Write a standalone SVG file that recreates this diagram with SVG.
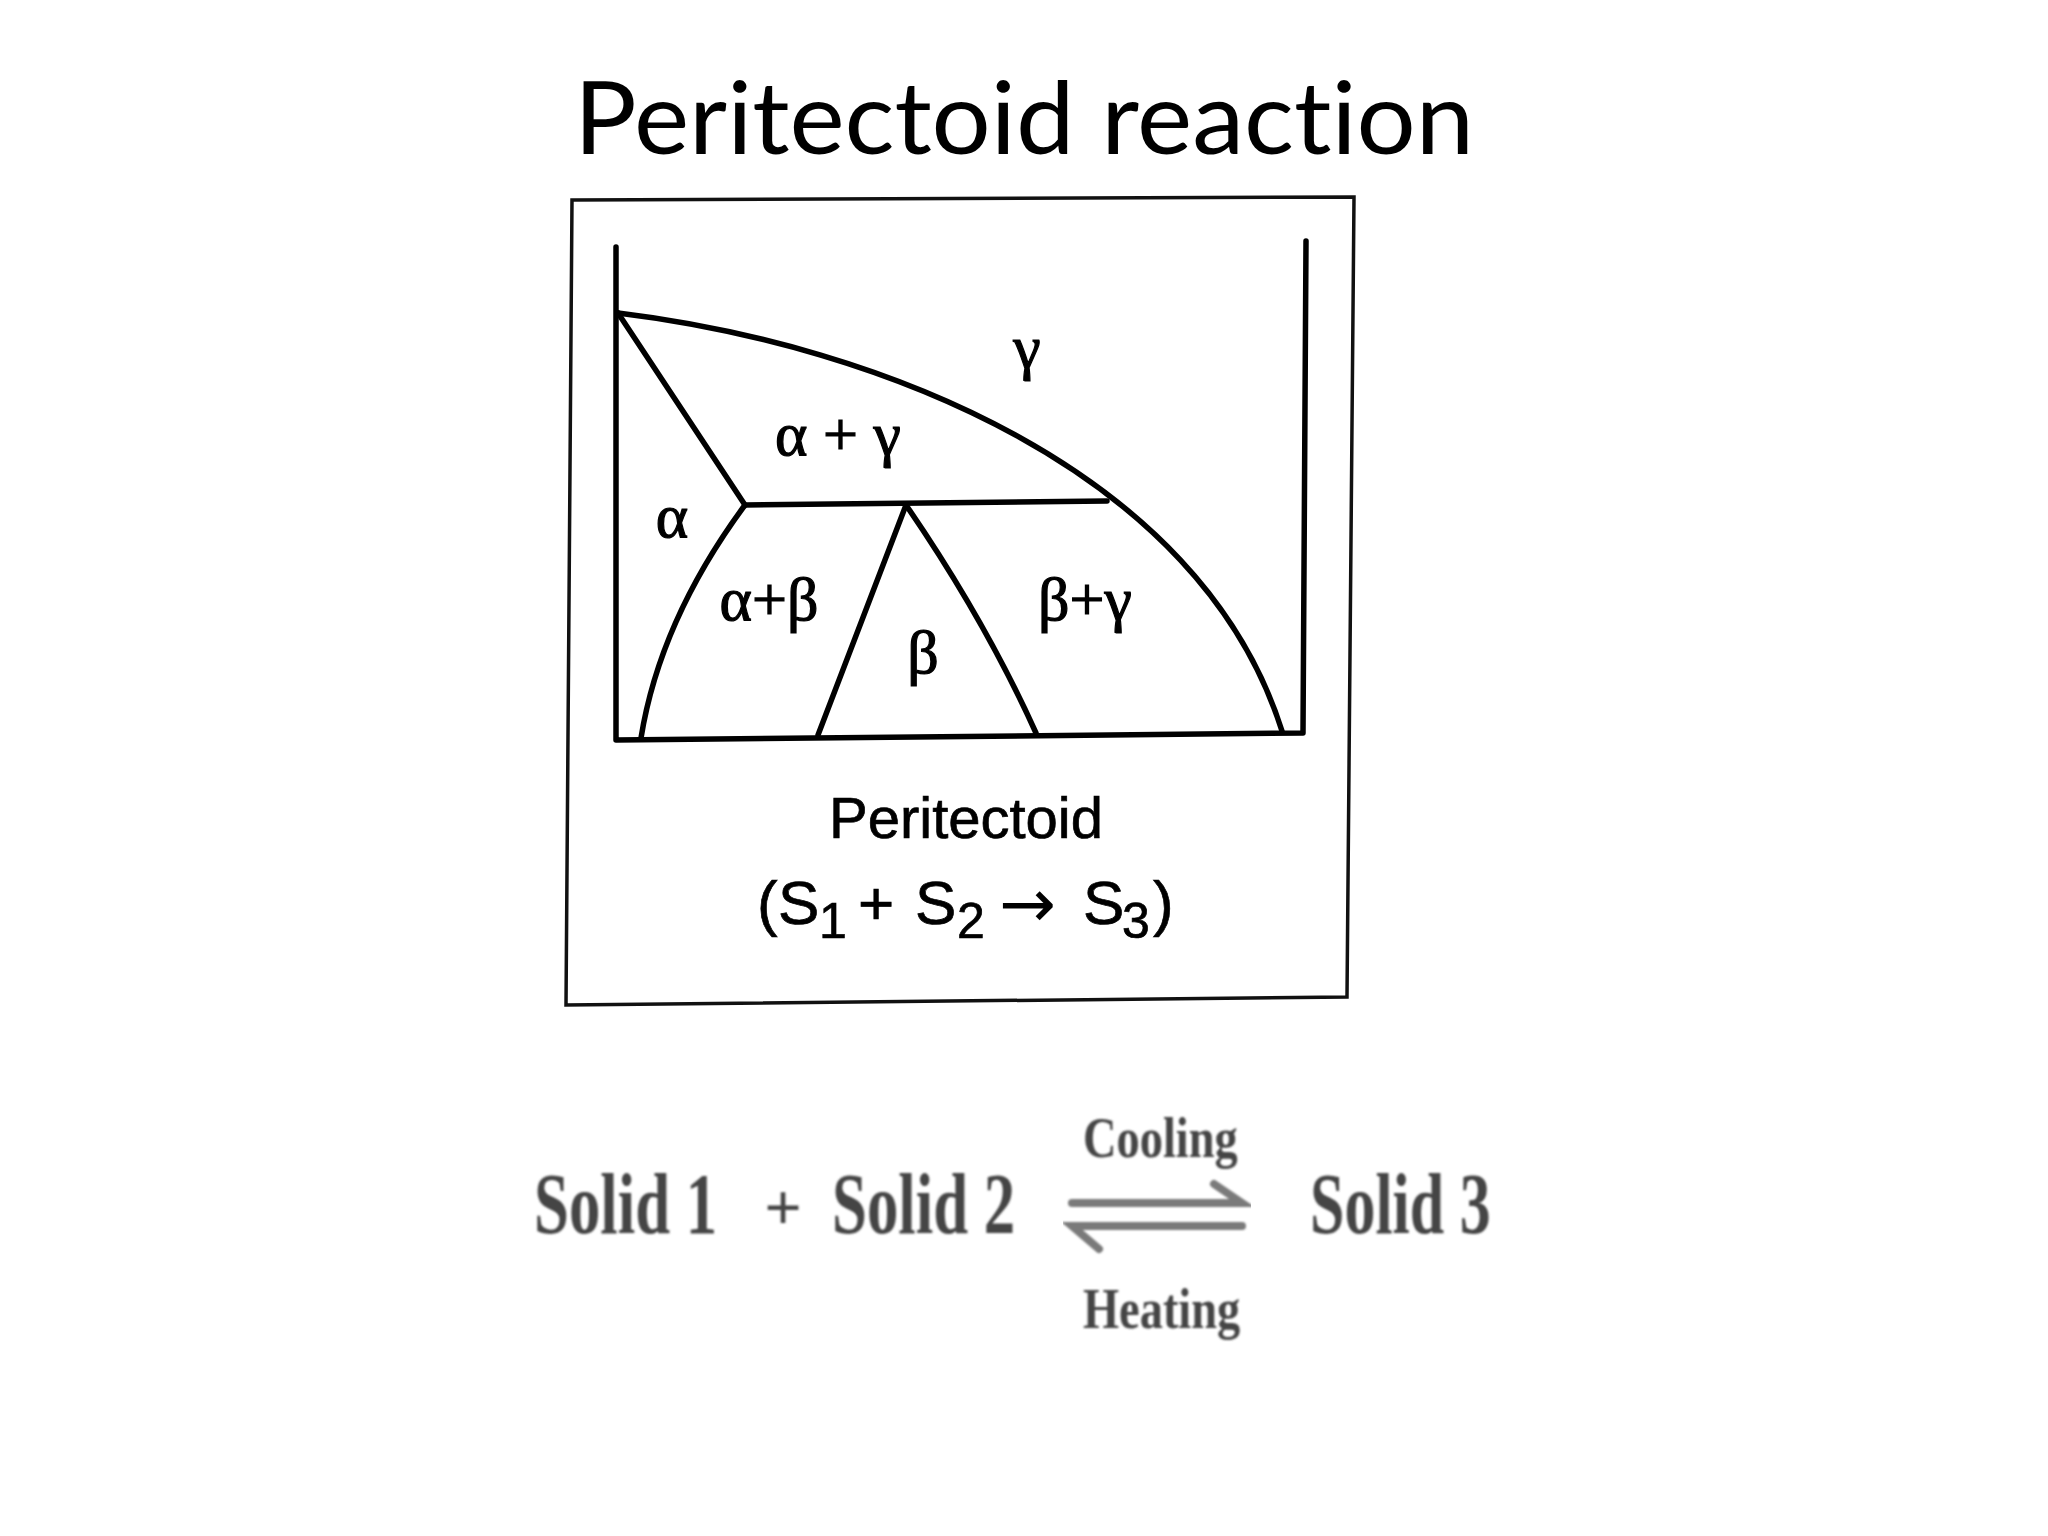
<svg xmlns="http://www.w3.org/2000/svg" width="2048" height="1536" viewBox="0 0 2048 1536">
<defs>
<filter id="soft" x="-5%" y="-20%" width="110%" height="140%"><feGaussianBlur stdDeviation="1.3"/></filter>
</defs>
<style>
.ln{fill:none;stroke:#000;stroke-width:5.5;stroke-linecap:round;stroke-linejoin:round}
.box{fill:none;stroke:#111;stroke-width:3.5}
.gk{font-family:"Liberation Serif","DejaVu Serif",serif;font-size:62px;fill:#000;stroke:#000;stroke-width:1.2;text-anchor:middle}
.cap{font-family:"Liberation Sans",Arial,sans-serif;fill:#000;stroke:#000;stroke-width:0.7}
.eq{font-family:"Liberation Serif","DejaVu Serif",serif;font-weight:bold;fill:#454545}
.arr{fill:none;stroke:#7a7a7a;stroke-width:8;stroke-linecap:round}
</style>
<rect width="2048" height="1536" fill="#fff"/>
<g id="title">
<text x="1024" y="154" font-family="Lato,'Open Sans',sans-serif" font-size="100" text-anchor="middle" style="font-variant-ligatures:none" textLength="900" lengthAdjust="spacingAndGlyphs">Peritectoid reaction</text>
</g>
<g id="frame">
<polygon class="box" points="572,200 1354,197 1347,997 566,1005"/>
</g>
<g id="phase-diagram">
<path class="ln" d="M616,247 L616,740 L1303,733 L1306,241"/>
<path class="ln" d="M618,313 C880,345 1200,470 1282,731"/>
<path class="ln" d="M618,313 L745,505 L1107,501"/>
<path class="ln" d="M745,505 Q660,620 641,738"/>
<path class="ln" d="M906,505 L818,735"/>
<path class="ln" d="M906,505 Q985,620 1036,733"/>
</g>
<g id="labels">
<text class="gk" x="1027" y="368">γ</text>
<text class="gk" x="838" y="455">α + γ</text>
<text class="gk" x="672" y="537">α</text>
<text class="gk" x="769" y="620">α+β</text>
<text class="gk" x="923" y="673">β</text>
<text class="gk" x="1085" y="620">β+γ</text>
</g>
<g id="caption">
<text class="cap" x="966" y="838" font-size="58" text-anchor="middle">Peritectoid</text>
<text class="cap" font-size="62" y="924"><tspan x="757">(</tspan><tspan x="778">S</tspan><tspan x="819" y="938" font-size="50">1</tspan><tspan x="858" y="924">+</tspan><tspan x="915">S</tspan><tspan x="957" y="938" font-size="50">2</tspan><tspan x="999" y="927" font-family="'DejaVu Sans',sans-serif" font-size="68" stroke-width="0">→</tspan><tspan x="1083" y="924">S</tspan><tspan x="1122" y="938" font-size="50">3</tspan><tspan x="1153" y="924">)</tspan></text>
</g>
<g id="equation" filter="url(#soft)">
<text class="eq" transform="translate(534,1233) scale(0.73,1)" font-size="86">Solid 1</text>
<text class="eq" x="783" y="1230" font-size="66" text-anchor="middle">+</text>
<text class="eq" transform="translate(832,1233) scale(0.73,1)" font-size="86">Solid 2</text>
<text class="eq" transform="translate(1310,1233) scale(0.72,1)" font-size="86">Solid 3</text>
<text class="eq" transform="translate(1083,1157) scale(0.8,1)" font-size="58">Cooling</text>
<text class="eq" transform="translate(1083,1328) scale(0.8,1)" font-size="58">Heating</text>
</g>
<g id="connectors" filter="url(#soft)">
<path class="arr" d="M1072,1203 L1242,1203 L1214,1184"/>
<path class="arr" d="M1242,1226 L1072,1226 L1099,1249"/>
</g>
</svg>
